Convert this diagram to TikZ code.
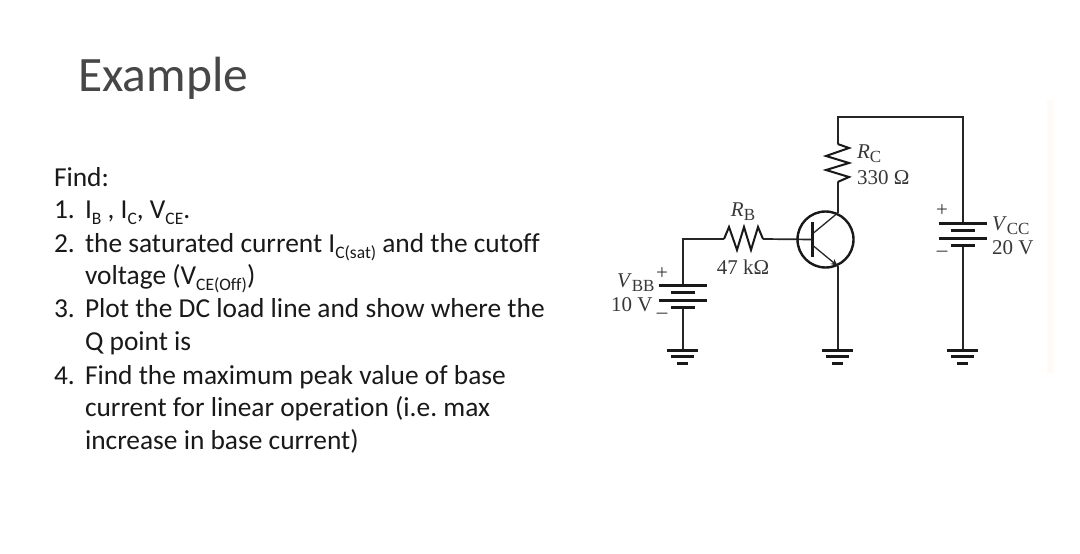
\documentclass[tikz,border=0pt]{standalone}
\usepackage{fontspec}
\setmainfont{Carlito}[Ligatures=NoCommon]
\newfontfamily\circfont{Liberation Serif}
\usetikzlibrary{arrows.meta}
\newcommand{\subs}[1]{\raisebox{-0.24em}{\fontsize{17.5}{17.5}\selectfont #1}}
\newcommand{\csub}[1]{\raisebox{-0.22em}{\fontsize{17}{17}\selectfont #1}}
\tikzset{
  x=1pt,y=-1pt,
  body/.style={anchor=base west,inner sep=0pt,outer sep=0pt,font=\fontsize{27.4}{30}\selectfont\frenchspacing,text=black!90},
  title/.style={anchor=base west,inner sep=0pt,font=\fontsize{49.5}{56}\selectfont,text=black!72},
  clabel/.style={inner sep=0pt,outer sep=0pt,font=\circfont\fontsize{21}{23}\selectfont,text=black!78},
  wire/.style={line width=1.7pt,draw=black!85},
  thick plate/.style={line width=3pt,draw=black!90},
  resist/.style={line width=2pt,draw=black!90,line join=miter},
}
\newcommand{\gnd}[2]{%
  \draw[thick plate] (#1-15.5,#2) -- (#1+15.5,#2) (#1-11.5,#2+6.5) -- (#1+11.5,#2+6.5) (#1-5.5,#2+13) -- (#1+5.5,#2+13);}
\newcommand{\batt}[2]{%
  \draw[thick plate] (#1-24,#2) -- (#1+24,#2) (#1-12,#2+7.5) -- (#1+12,#2+7.5) (#1-24,#2+15) -- (#1+24,#2+15) (#1-12,#2+22) -- (#1+12,#2+22);}
\begin{document}
\begin{tikzpicture}
\useasboundingbox (0,0) rectangle (1080,554);
\fill[white] (0,0) rectangle (1080,554);
\fill[orange!4] (1047,100) rectangle (1053,373);
% text
\node[title] (ttl) at (78,91) {Example};
\node[body] (find) at (54,186) {Find:};
\node[body] (n1) at (54,218) {1.};
\node[body] (t1) at (85,218) {I\subs{B} , I\subs{C}, V\subs{CE}.};
\node[body] (n2) at (54,252) {2.};
\node[body] (t2) at (85,252) {the saturated current I\subs{C(sat)} and the cutoff};
\node[body] (t2b) at (85,284) {voltage (V\subs{CE(Off)})};
\node[body] (n3) at (54,317) {3.};
\node[body] (t3) at (85,317) {Plot the DC load line and show where the};
\node[body] (t3b) at (85,350) {Q point is};
\node[body] (n4) at (54,384) {4.};
\node[body] (t4) at (85,384) {Find the maximum peak value of base};
\node[body] (t4b) at (85,416) {current for linear operation (i.e. max};
\node[body] (t4c) at (85,449) {increase in base current)};
% circuit points
\coordinate (bbtop) at (682.7,285);
\coordinate (bbbot) at (682.7,307);
\coordinate (bbg) at (682.7,350);
\coordinate (corner) at (682.7,239);
\coordinate (rbl) at (724,239);
\coordinate (rbr) at (763,239);
\coordinate (Q) at (825.5,239.5);
\coordinate (base) at (812.7,239.5);
\coordinate (rct) at (837.7,144);
\coordinate (rcb) at (837.7,182);
\coordinate (tl) at (837.7,117);
\coordinate (tr) at (962.7,117);
\coordinate (cctop) at (962.7,223);
\coordinate (ccbot) at (962.7,245);
\coordinate (ccg) at (962.7,350);
\coordinate (cg) at (837.7,350);
\coordinate (cc) at (837.7,213);
\coordinate (ce) at (837.7,266);
\draw[wire] (bbbot) -- (bbg);
\draw[wire] (bbtop) -- (corner) -- (rbl);
\draw[wire] (rbr) -- (base);
\draw[resist] (rbl) -- (729,227) -- (737,250) -- (744,227) -- (751,250) -- (758,227) -- (rbr);
\draw[wire] (rct) -- (tl) -- (tr) -- (cctop);
\draw[wire] (ccbot) -- (ccg);
\draw[wire] (rcb) -- (cc);
\draw[wire] (ce) -- (cg);
\draw[resist] (rct) -- (849,148) -- (826,156) -- (849,163) -- (826,170) -- (849,177) -- (rcb);
\draw[line width=2.4pt,draw=black!90] (Q) circle[radius=28];
\draw[line width=3.2pt,draw=black!90] (812.7,222) -- (812.7,257);
\draw[wire,line width=1.3pt] (813.5,233) -- (cc);
\draw[wire,line width=1.3pt,-{Stealth[length=7pt,width=6pt]}] (813.5,246) -- (ce);
\batt{682.7}{285}
\batt{962.7}{223}
\gnd{682.7}{350}
\gnd{837.7}{350}
\gnd{962.7}{350}
% labels
\node[clabel,anchor=base] (lrb) at (743,216) {\textit{R}\csub{B}};
\node[clabel,anchor=base] (vrb) at (743,274) {47 kΩ};
\node[clabel,anchor=base west] (lvbb) at (617,287) {\textit{V}\csub{BB}};
\node[clabel,anchor=base west] (vvbb) at (611,311) {10 V};
\node[clabel,anchor=base] (pb) at (662,279) {+};
\node[clabel,anchor=base] (mb) at (662,311) {\_};
\node[clabel,anchor=base west] (lrc) at (857,158) {\textit{R}\csub{C}};
\node[clabel,anchor=base west] (vrc) at (857,184) {330 Ω};
\node[clabel,anchor=base] (pc) at (942,216) {+};
\node[clabel,anchor=base] (mc) at (942,249) {\_};
\node[clabel,anchor=base west] (lvcc) at (992,230) {\textit{V}\csub{CC}};
\node[clabel,anchor=base west] (vvcc) at (992,254) {20 V};
\end{tikzpicture}
\end{document}
